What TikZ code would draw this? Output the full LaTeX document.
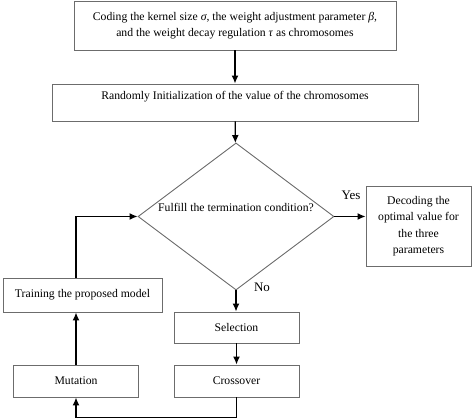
\documentclass[tikz,border=0pt]{standalone}
\usepackage{amsmath}
\usepackage{fontspec}
\setmainfont{Liberation Serif}
\usetikzlibrary{shapes.geometric,arrows.meta}
\tikzset{
  box/.style={draw=gray!85!black, line width=0.9pt, align=center, inner sep=2pt,
    font=\fontsize{11.7}{16.5}\selectfont},
  cond/.style={box, shape=diamond, inner sep=0pt, aspect=1.34},
  flow/.style={draw=black, line width=1.3pt, -{Latex[length=8pt,width=7pt]}},
  tag/.style={font=\fontsize{13}{15}\selectfont}
}
\begin{document}
\begin{tikzpicture}[x=1pt,y=-1pt]
  \useasboundingbox (0,0) rectangle (474,419);
  % 方框
  \node[box, minimum width=322pt, minimum height=49pt] (code) at (235,25.5)
    {Coding the kernel size \textit{σ}, the weight adjustment parameter \textit{β},\\
     and the weight decay regulation \textit{τ} as chromosomes};
  \node[box, minimum width=366pt, minimum height=37pt, text depth=13.5pt] (init) at (235,102.5)
    {Randomly Initialization of the value of the chromosomes};
  \node[cond, minimum width=196pt, minimum height=147pt, text depth=19pt] (check) at (236,216.5)
    {Fulfill the termination condition?};
  \node[box, minimum width=105pt, minimum height=80pt] (decode) at (418.5,226)
    {Decoding the\\ optimal value for\\ the three\\ parameters};
  \node[box, minimum width=159pt, minimum height=34pt] (train) at (82.5,295)
    {Training the proposed model};
  \node[box, minimum width=125pt, minimum height=31pt] (select) at (236.5,327.5) {Selection};
  \node[box, minimum width=125pt, minimum height=32pt] (cross) at (236.5,381) {Crossover};
  \node[box, minimum width=125pt, minimum height=32pt] (mutate) at (76,381) {Mutation};
  % 箭头
  \draw[flow] (code) -- (init);
  \draw[flow] (init) -- (check);
  \draw[flow] (check.east) -- (decode.west |- check.east);
  \draw[flow] (check.south) -- (check.south |- select.north);
  \draw[flow] (select) -- (cross);
  \draw[flow] (cross.south) -- ++(0,20) -| (mutate.south);
  \draw[flow] (mutate.north) -- (mutate.north |- train.south);
  \draw[flow] (mutate.north |- train.north) |- (check.west);
  % 文字
  \node[tag] (yes) at (351,195) {Yes};
  \node[tag] (no) at (262,287) {No};
\end{tikzpicture}
\end{document}
